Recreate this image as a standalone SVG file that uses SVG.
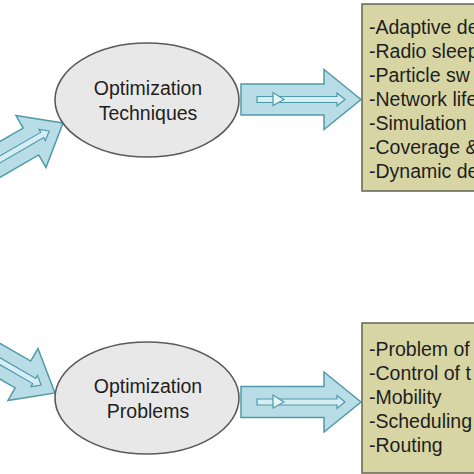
<svg xmlns="http://www.w3.org/2000/svg" xmlns:xlink="http://www.w3.org/1999/xlink" width="474" height="474" viewBox="0 0 474 474">
<style>
.arrow{fill:#b8dde6;stroke:#4f9aa9;stroke-width:1.5;stroke-linejoin:miter}
.inner{fill:#d6eef3;stroke:#4f9aa9;stroke-width:1.2}
.tri{fill:#e8f6f8;stroke:#4f9aa9;stroke-width:1.2}
.ell{fill:#e8e8e8;stroke:#5a5a5a;stroke-width:1.6}
.box{fill:#d8d5a5;stroke:#6c6c5c;stroke-width:1.6}
.etxt{font-family:"Liberation Sans",Arial,sans-serif;font-size:19.5px;fill:#1e1e1e;text-anchor:middle}
.btxt{font-family:"Liberation Sans",Arial,sans-serif;font-size:19.5px;fill:#1e1e1e}
</style>
<defs>
<g id="arrowShort">
<path class="arrow" d="M0,0 L-37,-30 L-37,-15.5 L-120,-15.5 L-120,15.5 L-37,15.5 L-37,30 Z"/>
<path class="inner" d="M-16,0 L-24,-6.5 L-24,-3 L-104,-3 L-104,3 L-24,3 L-24,6.5 Z"/>
<path class="tri" d="M-88,-7 L-88,6 L-77,0 Z"/>
</g>
<g id="arrowLong">
<path class="arrow" d="M0,0 L-37,-30 L-37,-15.5 L-160,-15.5 L-160,15.5 L-37,15.5 L-37,30 Z"/>
<path class="inner" d="M-16,0 L-24,-6.5 L-24,-3 L-150,-3 L-150,3 L-24,3 L-24,6.5 Z"/>
</g>
</defs>
<rect x="0" y="0" width="474" height="474" fill="#ffffff"/>
<g id="connectors">
<use xlink:href="#arrowLong" href="#arrowLong" transform="translate(63,123) rotate(-30)"/>
<use xlink:href="#arrowLong" href="#arrowLong" transform="translate(55,393) rotate(30)"/>
<use xlink:href="#arrowShort" href="#arrowShort" transform="translate(361,99.5)"/>
<use xlink:href="#arrowShort" href="#arrowShort" transform="translate(361,402)"/>
</g>
<g id="n-techniques">
<ellipse class="ell" cx="147" cy="100" rx="92" ry="57"/>
<text class="etxt" x="148" y="95">Optimization</text>
<text class="etxt" x="148" y="120">Techniques</text>
</g>
<g id="n-problems">
<ellipse class="ell" cx="147" cy="398" rx="92" ry="56"/>
<text class="etxt" x="148" y="393">Optimization</text>
<text class="etxt" x="148" y="418">Problems</text>
</g>
<g id="n-techniques-list">
<rect class="box" x="362" y="4" width="130" height="187"/>
<text class="btxt" x="369" y="34">-Adaptive de</text>
<text class="btxt" x="369" y="58">-Radio sleep</text>
<text class="btxt" x="369" y="82">-Particle sw</text>
<text class="btxt" x="369" y="106">-Network life</text>
<text class="btxt" x="369" y="130">-Simulation</text>
<text class="btxt" x="369" y="154">-Coverage &amp;</text>
<text class="btxt" x="369" y="178">-Dynamic de</text>
</g>
<g id="n-problems-list">
<rect class="box" x="362" y="323" width="130" height="150"/>
<text class="btxt" x="369" y="356">-Problem of</text>
<text class="btxt" x="369" y="380">-Control of t</text>
<text class="btxt" x="369" y="404">-Mobility</text>
<text class="btxt" x="369" y="428">-Scheduling</text>
<text class="btxt" x="369" y="452">-Routing</text>
</g>
</svg>
